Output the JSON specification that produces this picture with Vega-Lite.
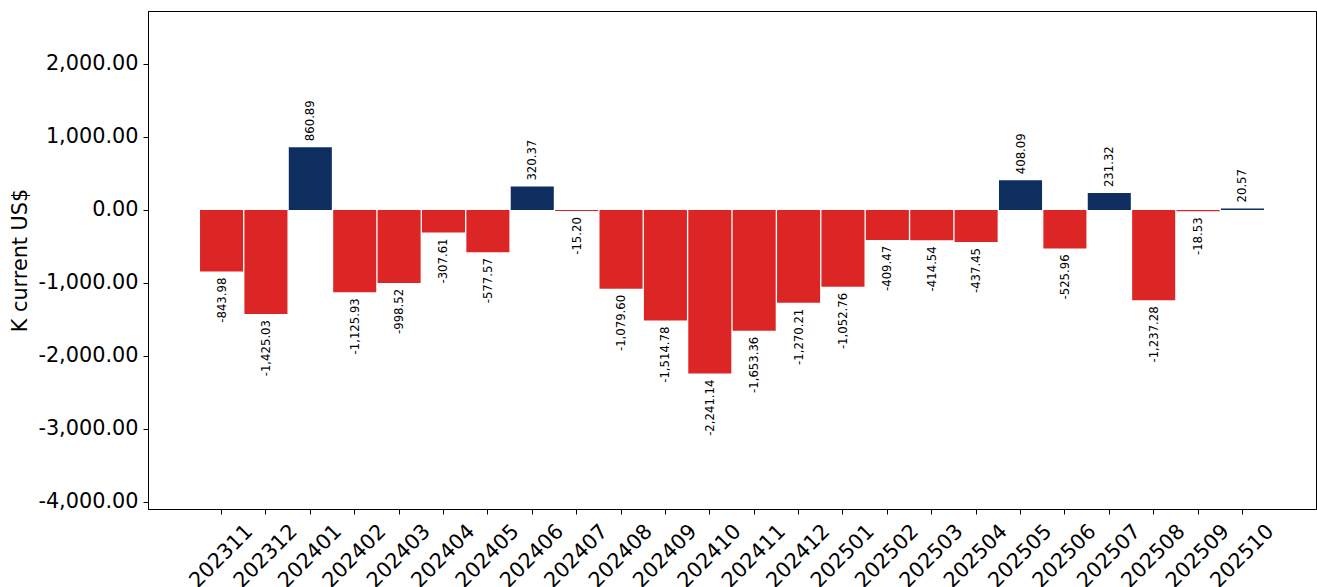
{
  "$schema": "https://vega.github.io/schema/vega-lite/v6.json",
  "width": 1168,
  "height": 498,
  "autosize": {"type": "none"},
  "padding": {"left": 148, "top": 11, "right": 1, "bottom": 78},
  "config": {
    "font": "DejaVu Sans",
    "view": {"stroke": "black", "strokeWidth": 1},
    "locale": {"number": {"decimal": ".", "thousands": ",", "grouping": [3], "currency": ["$", ""], "minus": "-"}},
    "axis": {
      "domainColor": "black", "tickColor": "black", "labelColor": "black", "titleColor": "black",
      "grid": false, "tickSize": 5, "labelFontSize": 20.8, "titleFontSize": 20.8,
      "titleFontWeight": "normal", "labelFont": "DejaVu Sans", "titleFont": "DejaVu Sans"
    }
  },
  "data": {"values": [
    {"month": "202311", "value": -843.98},
    {"month": "202312", "value": -1425.03},
    {"month": "202401", "value": 860.89},
    {"month": "202402", "value": -1125.93},
    {"month": "202403", "value": -998.52},
    {"month": "202404", "value": -307.61},
    {"month": "202405", "value": -577.57},
    {"month": "202406", "value": 320.37},
    {"month": "202407", "value": -15.20},
    {"month": "202408", "value": -1079.60},
    {"month": "202409", "value": -1514.78},
    {"month": "202410", "value": -2241.14},
    {"month": "202411", "value": -1653.36},
    {"month": "202412", "value": -1270.21},
    {"month": "202501", "value": -1052.76},
    {"month": "202502", "value": -409.47},
    {"month": "202503", "value": -414.54},
    {"month": "202504", "value": -437.45},
    {"month": "202505", "value": 408.09},
    {"month": "202506", "value": -525.96},
    {"month": "202507", "value": 231.32},
    {"month": "202508", "value": -1237.28},
    {"month": "202509", "value": -18.53},
    {"month": "202510", "value": 20.57}
  ]},
  "encoding": {
    "x": {
      "field": "month", "type": "ordinal", "sort": null,
      "scale": {
        "domain": ["_start", "202311", "202312", "202401", "202402", "202403", "202404", "202405", "202406", "202407", "202408", "202409", "202410", "202411", "202412", "202501", "202502", "202503", "202504", "202505", "202506", "202507", "202508", "202509", "202510", "_end"],
        "paddingInner": 0.03, "paddingOuter": 0.172
      },
      "axis": {
        "title": null,
        "values": ["202311", "202312", "202401", "202402", "202403", "202404", "202405", "202406", "202407", "202408", "202409", "202410", "202411", "202412", "202501", "202502", "202503", "202504", "202505", "202506", "202507", "202508", "202509", "202510"],
        "labelAngle": -45, "labelAlign": "center", "labelBaseline": "middle", "labelPadding": 42, "labelOverlap": false
      }
    },
    "y": {
      "field": "value", "type": "quantitative", "stack": null,
      "scale": {"domain": [-4096, 2726], "nice": false},
      "axis": {"title": "K current US$", "values": [-4000, -3000, -2000, -1000, 0, 1000, 2000], "format": ",.2f", "labelPadding": 5, "titlePadding": 7}
    }
  },
  "layer": [
    {
      "mark": {"type": "bar"},
      "encoding": {
        "color": {"condition": {"test": "datum.value >= 0", "value": "#0D2E5E"}, "value": "#DC2626"}
      }
    },
    {
      "transform": [{"filter": "datum.value >= 0"}],
      "mark": {"type": "text", "angle": 270, "align": "left", "baseline": "middle", "dx": 6, "fontSize": 11.7, "color": "black"},
      "encoding": {"text": {"field": "value", "type": "quantitative", "format": ",.2f"}}
    },
    {
      "transform": [{"filter": "datum.value < 0"}],
      "mark": {"type": "text", "angle": 270, "align": "right", "baseline": "middle", "dx": -6, "fontSize": 11.7, "color": "black"},
      "encoding": {"text": {"field": "value", "type": "quantitative", "format": ",.2f"}}
    }
  ]
}
